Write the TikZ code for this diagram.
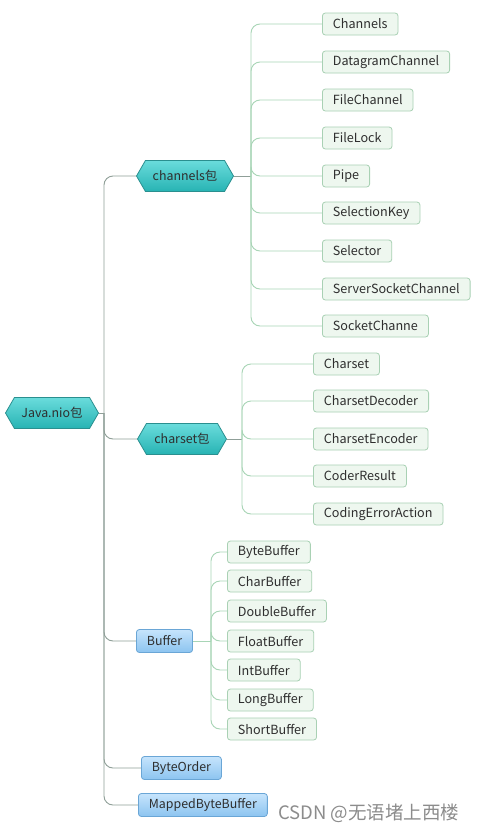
\documentclass[tikz,border=0pt]{standalone}
\usepackage{fontspec}
\setmainfont{Noto Sans CJK SC}
\usetikzlibrary{shapes.symbols}
\definecolor{leaffill}{HTML}{EEF7EF}
\definecolor{leafdraw}{HTML}{A9D1B4}
\definecolor{brline}{HTML}{A8D5B6}
\definecolor{trunk}{HTML}{8F9F98}
\definecolor{hextop}{HTML}{6ADCDC}
\definecolor{hexbot}{HTML}{27B3B3}
\definecolor{hexdraw}{HTML}{2A8F8F}
\definecolor{bluetop}{HTML}{C6E4FC}
\definecolor{bluebot}{HTML}{8CC4F0}
\definecolor{bluedraw}{HTML}{6AA6D6}
\definecolor{txt}{HTML}{2E2E2E}
\tikzset{
  leaf/.style={draw=leafdraw, fill=leaffill, rounded corners=3pt, line width=0.8pt,
    minimum height=22pt, inner xsep=10.5pt, inner ysep=0pt, anchor=west,
    font=\fontsize{12.6}{13}\selectfont, text=txt},
  hexnode/.style={shape=signal, signal to=east and west, signal pointer angle=120,
    draw=hexdraw, top color=hextop, bottom color=hexbot, line width=0.8pt,
    minimum height=31pt, inner xsep=4pt, inner ysep=0pt,
    font=\fontsize{12.4}{13}\selectfont, text=txt},
  bluenode/.style={draw=bluedraw, top color=bluetop, bottom color=bluebot,
    rounded corners=3pt, line width=0.8pt, minimum height=23pt, inner xsep=10.5pt,
    inner ysep=0pt, font=\fontsize{12.4}{13}\selectfont, text=txt},
  br/.style={draw=brline, line width=0.9pt, rounded corners=9pt},
  tr/.style={draw=trunk, line width=0.9pt, rounded corners=9pt},
}
\begin{document}
\begin{tikzpicture}[x=1pt,y=-1pt]
\useasboundingbox (0,0) rectangle (485,825);
\fill[white] (0,0) rectangle (485,825);

% main nodes
\node[hexnode, minimum width=93pt] (root) at (52,413) {Java.nio包};
\node[hexnode, minimum width=97pt] (chan) at (185,176) {channels包};
\node[hexnode, minimum width=89pt] (cs) at (182,439) {charset包};
\node[bluenode, anchor=west] (buf) at (136,641) {Buffer};
\node[bluenode, anchor=west] (bo) at (141,768) {ByteOrder};
\node[bluenode, anchor=west] (mbb) at (138,805) {MappedByteBuffer};

% trunk coordinates
\coordinate (t0) at (104,0);
\coordinate (t1) at (251,0);
\coordinate (t2) at (242,0);
\coordinate (t3) at (211,0);

% root connectors
\draw[tr] (root.east) -- (root.east -| t0);
\foreach \c in {chan,cs,buf,bo,mbb}
  \draw[tr] (root.east -| t0) |- (\c.west);

% channels leaves
\node[leaf] (c1) at (322,24) {Channels};
\node[leaf] (c2) at (322,62) {DatagramChannel};
\node[leaf] (c3) at (322,100) {FileChannel};
\node[leaf] (c4) at (322,138) {FileLock};
\node[leaf] (c5) at (322,176) {Pipe};
\node[leaf] (c6) at (322,213) {SelectionKey};
\node[leaf] (c7) at (322,251) {Selector};
\node[leaf] (c8) at (322,289) {ServerSocketChannel};
\node[leaf] (c9) at (322,326) {SocketChanne};
\draw[tr] (chan.east) -- (chan.east -| t1);
\foreach \c in {c1,c2,c3,c4,c5,c6,c7,c8,c9}
  \draw[br] (chan.east -| t1) |- (\c.west);

% charset leaves
\node[leaf] (s1) at (313,364) {Charset};
\node[leaf] (s2) at (313,401) {CharsetDecoder};
\node[leaf] (s3) at (313,439) {CharsetEncoder};
\node[leaf] (s4) at (313,476) {CoderResult};
\node[leaf] (s5) at (313,514) {CodingErrorAction};
\draw[tr] (cs.east) -- (cs.east -| t2);
\foreach \c in {s1,s2,s3,s4,s5}
  \draw[br] (cs.east -| t2) |- (\c.west);

% buffer leaves
\node[leaf] (b1) at (227,552) {ByteBuffer};
\node[leaf] (b2) at (227,581) {CharBuffer};
\node[leaf] (b3) at (227,611) {DoubleBuffer};
\node[leaf] (b4) at (227,641) {FloatBuffer};
\node[leaf] (b5) at (227,670) {IntBuffer};
\node[leaf] (b6) at (227,700) {LongBuffer};
\node[leaf] (b7) at (227,729) {ShortBuffer};
\draw[br] (buf.east) -- (buf.east -| t3);
\foreach \c in {b1,b2,b3,b4,b5,b6,b7}
  \draw[br] (buf.east -| t3) |- (\c.west);

% watermark
\node[anchor=west, text=black!45, font=\fontsize{18.5}{19}\selectfont, inner sep=0pt] (wm) at (278,813) {CSDN @无语堵上西楼};
\end{tikzpicture}
\end{document}
